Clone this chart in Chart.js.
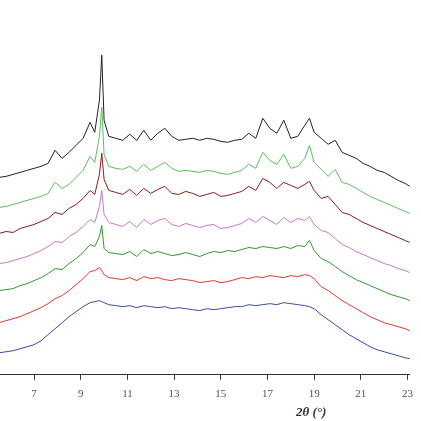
<!DOCTYPE html>
<html>
<head>
<meta charset="utf-8">
<script src="https://cdn.jsdelivr.net/npm/chart.js@4/dist/chart.umd.min.js"></script>
<style>
  html, body { margin: 0; padding: 0; background: #fff; }
  #wrap { position: relative; width: 421px; height: 421px; }
  #xtitle { position: absolute; left: 296px; top: 404px; font: italic bold 13px "Liberation Serif", serif; color: #333; }
</style>
</head>
<body>
<div id="wrap">
  <canvas id="chart" width="421" height="421"></canvas>
  <div id="xtitle">2θ (°)</div>
</div>
<script>
// 2theta positions shared by all patterns
const twoTheta = [5.5,5.8,6.1,6.4,6.7,7.0,7.3,7.6,7.9,8.2,8.5,8.8,9.1,9.4,9.6,9.8,9.9,10.0,10.2,
  10.5,10.8,11.1,11.4,11.7,12.0,12.3,12.6,12.9,13.2,13.5,13.8,14.1,14.4,14.7,15.0,15.3,15.6,15.9,
  16.2,16.5,16.8,17.1,17.4,17.7,18.0,18.3,18.6,18.8,19.0,19.3,19.6,19.9,20.2,20.5,20.8,21.1,21.4,
  21.7,22.0,22.3,22.6,22.9,23.1];
const tickLabels = [7, 9, 11, 13, 15, 17, 19, 21, 23];

// stacked intensities (arbitrary units, offset), top to bottom
const blackPattern = [197,198,200,202,204,206,208,211,224,216,222,229,236,252,242,274,319,254,238,236,234,240,234,244,234,241,246,238,234,235,236,234,236,235,233,232,234,235,241,236,256,246,241,254,236,238,249,256,242,236,230,234,222,219,216,211,208,204,202,198,194,191,188];
const lightGreenPattern = [167,168,170,172,174,176,178,181,192,186,190,197,204,218,212,238,267,220,208,206,205,208,203,210,204,208,212,206,203,204,203,202,204,203,201,200,202,204,210,206,222,214,210,220,206,208,216,229,212,205,198,205,192,190,186,182,178,175,172,169,166,163,161];
const darkRedPattern = [141,143,142,146,148,150,153,156,162,160,166,170,176,184,180,200,221,195,184,182,180,185,179,186,181,185,188,181,180,183,181,178,180,182,178,179,181,183,188,184,196,192,186,192,189,186,190,193,184,176,178,170,162,160,156,152,149,146,143,140,137,134,132];
const pinkPattern = [111,112,114,116,118,121,124,128,133,132,138,142,148,155,152,168,184,160,152,150,148,153,147,155,150,154,156,150,148,151,149,147,149,150,146,147,149,151,156,152,158,154,150,157,152,156,154,158,150,144,142,136,130,127,123,120,117,114,111,109,106,104,102];
const greenPattern = [84,85,86,89,91,94,97,101,106,105,111,116,122,130,128,138,149,126,122,121,120,123,118,125,121,123,121,119,120,122,120,118,121,123,122,124,123,125,127,126,128,127,126,128,126,129,128,134,124,116,113,108,103,99,95,92,89,86,83,80,78,76,74];
const redPattern = [52,54,56,58,61,64,67,71,76,79,84,90,96,103,104,107,104,100,97,96,95,97,94,98,96,97,95,94,96,95,94,92,93,94,92,93,95,97,96,98,97,99,98,97,99,98,100,99,96,88,84,79,74,70,66,62,58,55,52,50,48,46,44];
const bluePattern = [22,23,24,26,28,30,34,40,46,52,58,63,68,72,73,74,73,72,70,69,68,69,67,69,68,67,68,66,67,66,65,64,66,65,66,67,68,68,70,69,70,71,70,72,71,70,69,68,66,60,55,50,45,40,36,32,28,25,23,21,19,17,16];

const patterns = [blackPattern, lightGreenPattern, darkRedPattern, pinkPattern, greenPattern, redPattern, bluePattern];
const colors = ['#222222', '#5cbf5c', '#8b1c1c', '#c47ac4', '#2e9a2e', '#e0392f', '#3b4d9e'];

const datasets = patterns.map((p, i) => ({
  data: p.map((v, j) => ({ x: twoTheta[j], y: v })),
  borderColor: colors[i],
  borderWidth: 1,
  pointRadius: 0,
  tension: 0,
  fill: false
}));

new Chart(document.getElementById('chart'), {
  type: 'line',
  data: { datasets },
  options: {
    responsive: false,
    animation: false,
    layout: { padding: { left: 0, right: 0, top: 0, bottom: 12 } },
    plugins: { legend: { display: false }, tooltip: { enabled: false } },
    scales: {
      x: {
        type: 'linear',
        min: 5.54,
        max: 23.1,
        afterBuildTicks: (axis) => { axis.ticks = tickLabels.map(v => ({ value: v })); },
        border: { color: '#333', width: 1 },
        grid: { drawOnChartArea: false, tickLength: 5, color: '#333' },
        ticks: { padding: 8, color: '#555', font: { family: 'Liberation Serif', size: 11 }, maxRotation: 0 }
      },
      y: { display: false, min: 0, max: 374 }
    }
  }
});
</script>
</body>
</html>
